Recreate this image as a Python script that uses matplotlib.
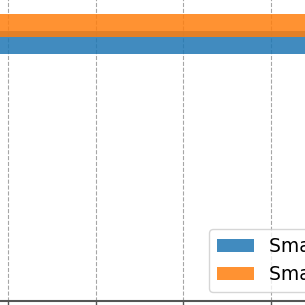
import matplotlib
matplotlib.use("Agg")
import matplotlib.pyplot as plt
import numpy as np

# visible slice of a grouped horizontal bar chart
categories = ["Total"]
series_labels = ["Small (2022)", "Small (2023)"]
blue_values = [150]
orange_values = [145]
x_ticks = [0, 20, 40, 60, 80, 100, 120, 140, 160]

W = H = 305
fig = plt.figure(figsize=(W / 100, H / 100), dpi=100)

# axes deliberately larger than the canvas: only a window of it is shown
left_px, right_px = -167, 533
bottom_px, top_px = 4.5, 371
ax = fig.add_axes([left_px / W, bottom_px / H,
                   (right_px - left_px) / W, (top_px - bottom_px) / H])

y = np.arange(len(categories))
bh = 0.35
ax.barh(y - 0.125, blue_values, height=bh, color="tab:blue", alpha=0.85,
        label=series_labels[0], zorder=2)
ax.barh(y + 0.125, orange_values, height=bh, color="tab:orange", alpha=0.85,
        label=series_labels[1], zorder=3)

ax.set_xlim(0, 160)
ax.set_ylim(-4.05, 1.52)
ax.set_xticks(x_ticks)
ax.set_xticklabels([])
ax.set_yticks([])
ax.grid(axis="x", linestyle="--", color="gray", linewidth=0.8, alpha=0.7, zorder=0)
ax.set_axisbelow(True)
for side in ("top", "right", "left"):
    ax.spines[side].set_visible(False)
ax.spines["bottom"].set_color("#555555")
ax.spines["bottom"].set_linewidth(1.5)
ax.tick_params(axis="x", colors="#555555", length=5, width=1)

ax.legend(loc="lower left", bbox_to_anchor=(209 / W, 13.5 / H),
          bbox_transform=fig.transFigure, borderaxespad=0, fontsize=13.5)

fig.savefig("out.png", dpi=100)
